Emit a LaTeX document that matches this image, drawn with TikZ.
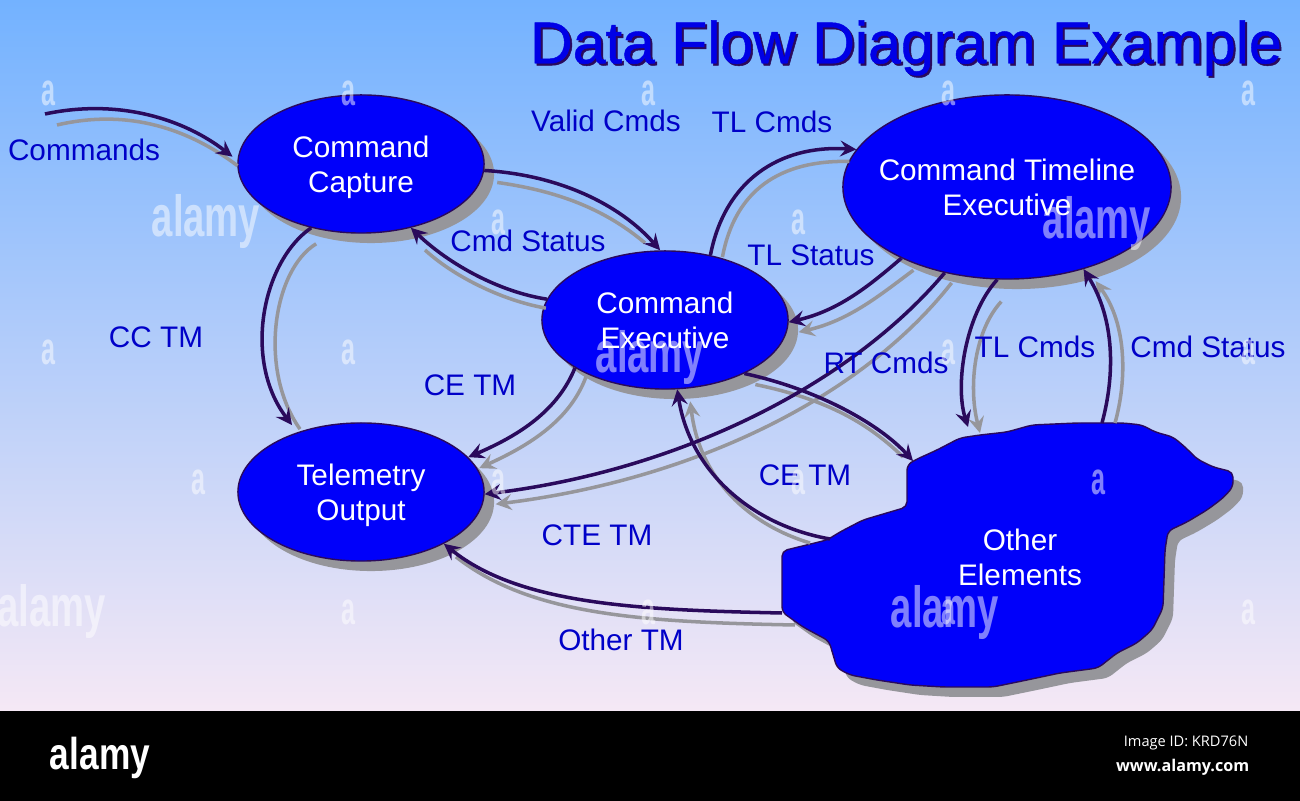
\documentclass[tikz,border=0pt]{standalone}
\usepackage{fontspec}
\setmainfont{Liberation Sans}
\newfontfamily\titlefont[FakeBold=0.8]{Liberation Sans}
\newfontfamily\stockfont{Open Sans}
\usetikzlibrary{shapes.geometric,shadows}

\definecolor{skytop}{RGB}{115,178,255}
\definecolor{skymid}{RGB}{180,210,240}
\definecolor{skybottom}{RGB}{245,232,245}
\definecolor{flowdark}{RGB}{42,10,92}
\definecolor{flowgray}{RGB}{150,150,155}
\definecolor{boxblue}{RGB}{0,0,250}
\definecolor{labelblue}{RGB}{0,0,200}
\definecolor{titleblue}{RGB}{0,0,230}

\newcommand{\blobpath}{(782,551)--(827,540)--(840,532)--(863,520)--(907,507)--(907,465)--(915,460)--(937,450)--(960,438)--(980,435)--(1007,432)--(1032,425)--(1077,423)--(1123,423)--(1142,425)--(1155,432)--(1173,437)--(1185,447)--(1197,459)--(1213,467)--(1233,472)--(1233,487)--(1223,498)--(1207,510)--(1187,522)--(1168,531)--(1165,550)--(1163,608)--(1152,630)--(1137,643)--(1117,653)--(1098,668)--(1060,673)--(1027,680)--(993,687)--(943,687)--(910,685)--(877,680)--(850,675)--(837,668)--(829,641)--(803,627)--(782,612)--cycle}

\tikzset{
  process/.style={ellipse,draw=flowdark,fill=boxblue,text=white,line width=0.4pt,inner sep=0pt,
    minimum width=2.46cm,minimum height=1.38cm,align=center,
    font=\fontsize{8.45}{10}\selectfont,
    drop shadow={shadow xshift=0.1cm,shadow yshift=-0.1cm,fill=flowgray,opacity=1}},
  flow/.style={draw=flowdark,line width=1pt,-stealth},
  twin/.style={draw=flowgray,line width=1pt,-stealth},
  lbl/.style={text=labelblue,font=\fontsize{8.45}{10}\selectfont},
  stamp/.style={text=white,text opacity=0.5,font=\fontsize{16.5}{18}\bfseries\selectfont},
  smallstamp/.style={text=white,text opacity=0.5,font=\fontsize{13}{14}\bfseries\selectfont}
}

\begin{document}
\begin{tikzpicture}[x=0.01cm,y=-0.01cm]
  \useasboundingbox (0,0) rectangle (1300,801);
  \shade[top color=skytop,middle color=skymid,bottom color=skybottom] (0,0) rectangle (1300,711);
  \fill[black] (0,711) rectangle (1300,801);

  \node[text=flowdark,font=\fontsize{16.8}{18}\titlefont] (titleback) at (908,50) {Data Flow Diagram Example};
  \node[text=titleblue,font=\fontsize{16.8}{18}\titlefont] (title) at (906,48) {Data Flow Diagram Example};

  % the blob
  \fill[flowgray,shift={(10,10)},rounded corners=1.5pt] \blobpath;
  \filldraw[fill=boxblue,draw=flowdark,line width=0.4pt,rounded corners=1.5pt] \blobpath;
  \node[text=white,align=center,font=\fontsize{8.45}{10}\selectfont] (other) at (1020,557) {Other\\Elements};
  \coordinate (otherwest) at (782,613);
  \coordinate (otherlow) at (830,539);
  \coordinate (otherleft) at (913,461);
  \coordinate (othertop) at (968,427);
  \coordinate (otherright) at (1102,423);
  \coordinate (source) at (45,114);

  \node[process] (capture) at (361,164) {\rule{0pt}{7.8pt}Command\\Capture};
  \node[process] (exec) at (665,320) {Command\\Executive};
  \node[process] (telemetry) at (361,492) {\rule{0pt}{7.8pt}Telemetry\\Output};
  \node[process,inner xsep=-0.3cm,minimum width=3.28cm,minimum height=1.84cm] (timeline) at (1007,187) {Command Timeline\\Executive};

  % gray twins
  \draw[twin,-] ([shift={(12,11)}]source) .. controls (130,108) and (190,130) .. ([shift={(0,6)}]capture.178);
  \draw[twin,-] ([shift={(13,12)}]capture.-3) .. controls (550,190) and (600,205) .. (645,243);
  \draw[twin,-] ([shift={(-1,9)}]exec.170) .. controls (500,300) and (452,275) .. (425,250);
  \draw[twin,-] ([shift={(5,16)}]capture.-128) .. controls (273,270) and (258,370) .. ([shift={(8,-5)}]telemetry.140);
  \draw[twin] ([shift={(11,9)}]exec.-152) .. controls (570,420) and (530,445) .. ([shift={(11,11)}]telemetry.18);
  \draw[twin] ([shift={(7,10)}]timeline.-126) .. controls (860,400) and (690,480) .. ([shift={(11,10)}]telemetry.-1);
  \draw[twin] ([shift={(-20,4)}]otherlow) .. controls (750,525) and (700,480) .. ([shift={(13,12)}]exec.-80);
  \draw[twin,-] ([shift={(13,12)}]otherwest) .. controls (640,622) and (530,615) .. ([shift={(12,13)}]telemetry.-32);
  \draw[twin,-] ([shift={(11,11)}]exec.-34) .. controls (830,400) and (870,425) .. ([shift={(-10,-4)}]otherleft);
  \draw[twin,-] ([shift={(12,2)}]exec.55) .. controls (735,190) and (780,160) .. ([shift={(-7,12)}]timeline.166);
  \draw[twin] ([shift={(12,12)}]timeline.-146) .. controls (880,295) and (850,320) .. ([shift={(10,10)}]exec.-1);
  \draw[twin] ([shift={(4,22)}]timeline.-96) .. controls (975,330) and (968,385) .. ([shift={(12,6)}]othertop);
  \draw[twin] ([shift={(13,0)}]otherright) .. controls (1127,380) and (1127,325) .. ([shift={(12,12)}]timeline.-47);

  % dark connectors
  \draw[flow] (source) .. controls (120,98) and (185,120) .. ([shift={(-5,-3)}]capture.178);
  \draw[flow] (capture.-3) .. controls (560,175) and (620,205) .. (exec.94);
  \draw[flow] (exec.170) .. controls (500,292) and (450,265) .. (capture.-52);
  \draw[flow] (capture.-128) .. controls (262,262) and (243,360) .. ([shift={(0,-9)}]telemetry.140);
  \draw[flow] (exec.-152) .. controls (558,410) and (520,435) .. (telemetry.18);
  \draw[flow] (timeline.-126) .. controls (850,385) and (680,470) .. (telemetry.-1);
  \draw[flow] (otherlow) .. controls (750,525) and (690,470) .. (exec.-80);
  \draw[flow] (otherwest) .. controls (640,610) and (520,605) .. (telemetry.-32);
  \draw[flow] (exec.-34) .. controls (820,390) and (880,425) .. (otherleft);
  \draw[flow] (exec.55) .. controls (725,180) and (780,145) .. (timeline.166);
  \draw[flow] (timeline.-146) .. controls (870,285) and (840,310) .. (exec.-1);
  \draw[flow] (timeline.-96) .. controls (965,315) and (955,385) .. (othertop);
  \draw[flow] (otherright) .. controls (1115,375) and (1115,320) .. (timeline.-47);

  % labels
  \node[lbl] (lcommands) at (84,150) {Commands};
  \node[lbl] (lvalid) at (606,121) {Valid Cmds};
  \node[lbl] (ltlcmds) at (772,122) {TL Cmds};
  \node[lbl] (lcmdstatus) at (528,241) {Cmd Status};
  \node[lbl] (ltlstatus) at (811,255) {TL Status};
  \node[lbl] (lcctm) at (156,337) {CC TM};
  \node[lbl] (lcetm) at (470,385) {CE TM};
  \node[lbl] (lrtcmds) at (886,363) {RT Cmds};
  \node[lbl] (ltlcmdsb) at (1035,347) {TL Cmds};
  \node[lbl] (lcmdstatusb) at (1208,347) {Cmd Status};
  \node[lbl] (lcetmb) at (805,475) {CE TM};
  \node[lbl] (lctetm) at (597,535) {CTE TM};
  \node[lbl] (lothertm) at (621,640) {Other TM};

  % stock marks
  \foreach \x/\y in {206/222,52/612,650/358,945/613,1097/224}
    \node[stamp] at (\x,\y) {\scalebox{0.66}[1]{alamy}};
  \foreach \x/\y in {48/93,348/93,648/93,948/93,1248/93,498/222,798/222,48/352,348/352,948/352,1248/352,198/482,498/482,798/482,1098/482,348/612,648/612,948/612,1248/612}
    \node[smallstamp] at (\x,\y) {\scalebox{0.55}[1]{a}};
  \node[text=white,font=\fontsize{12.7}{14}\bfseries\selectfont,anchor=base] (brand) at (100,770) {\scalebox{0.79}[1]{alamy}};
  \node[text=white,font=\fontsize{4.15}{6}\stockfont\selectfont,anchor=east,inner sep=0pt] (code) at (1249,743) {Image ID: KRD76N};
  \node[text=white,font=\fontsize{4.6}{6}\stockfont\bfseries\selectfont,anchor=east,inner sep=0pt] (site) at (1250,767) {www.alamy.com};
\end{tikzpicture}
\end{document}
